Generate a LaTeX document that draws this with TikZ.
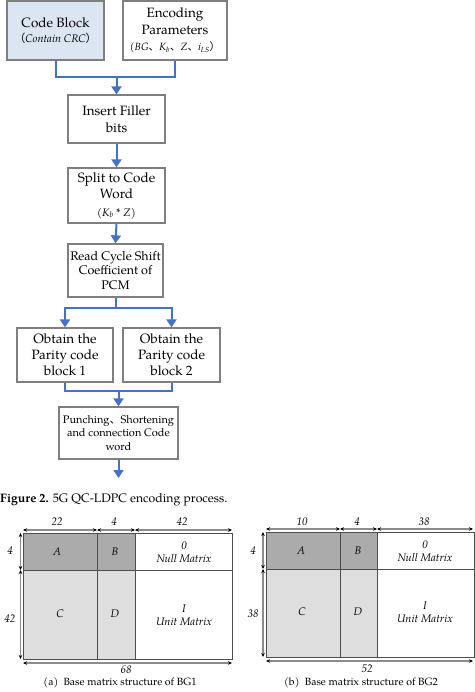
\documentclass[tikz,border=0pt]{standalone}
\usepackage{fontspec}
\setmainfont{TeX Gyre Pagella}
\newfontfamily\cjk{Noto Sans CJK SC}
\usetikzlibrary{arrows.meta}
\definecolor{boxline}{HTML}{7F7F7F}
\definecolor{cbfill}{HTML}{DCE6F2}
\definecolor{flowblue}{HTML}{4472C4}
\definecolor{darkcell}{HTML}{ABABAB}
\definecolor{lightcell}{HTML}{DEDEDE}
\definecolor{gridline}{HTML}{4D4D4D}
\definecolor{dimline}{HTML}{8C8C8C}
\begin{document}
\begin{tikzpicture}[x=1pt,y=-1pt,
  box/.style={draw=boxline,line width=1.3pt,fill=white,align=center,inner sep=0pt,font=\fontsize{13.5}{16.5}\selectfont},
  flow/.style={draw=flowblue,line width=2pt},
  flowarrow/.style={flow,-{Triangle[length=8pt,width=10pt]}},
  cell/.style={draw=gridline,line width=0.9pt},
  dim/.style={draw=dimline,line width=1.2pt,{Stealth[length=4pt,width=3.5pt,color=black]}-{Stealth[length=4pt,width=3.5pt,color=black]}},
  lbl/.style={font=\fontsize{11}{13}\selectfont\itshape,inner sep=0pt,align=center},
  capt/.style={font=\fontsize{10.5}{12}\selectfont,inner sep=0pt},
]
\useasboundingbox (0,0) rectangle (474,692);

% ---------- flow chart ----------
\node[box,fill=cbfill,minimum width=97pt,minimum height=59pt] (cb) at (55.5,30.5)
  {Code Block\\[-1pt]{\fontsize{11}{13}\selectfont{\cjk （}{\itshape Contain CRC}{\cjk ）}}};
\node[box,minimum width=104pt,minimum height=59pt] (ep) at (175,30.5)
  {Encoding\\Parameters\\{\fontsize{10.5}{12.5}\selectfont\itshape (BG{\cjk 、}K\textsubscript{b}{\cjk 、}Z{\cjk 、}i\textsubscript{LS}{\cjk ）}}};
\node[box,minimum width=97pt,minimum height=48pt] (ins) at (116.5,119) {Insert Filler\\bits};
\node[box,minimum width=97pt,minimum height=55pt] (spl) at (116.5,195.5)
  {Split to Code\\Word\\[1pt]{\fontsize{11}{13}\selectfont\itshape (K\textsubscript{b} * Z)}};
\node[box,minimum width=95pt,minimum height=53pt,font=\fontsize{12.5}{14.5}\selectfont] (rd) at (115.5,270.5)
  {Read Cycle Shift\\Coefficient of\\PCM};
\node[box,minimum width=96pt,minimum height=54pt,font=\fontsize{13.5}{16}\selectfont] (ob1) at (65,355)
  {Obtain the\\Parity code\\block 1};
\node[box,minimum width=97pt,minimum height=54pt,font=\fontsize{13.5}{16}\selectfont] (ob2) at (171.5,355)
  {Obtain the\\Parity code\\block 2};
\node[box,minimum width=119pt,minimum height=52pt,font=\fontsize{11}{13.5}\selectfont] (pun) at (118.5,433)
  {Punching{\cjk 、}Shortening\\and connection Code\\word};

\coordinate (j1) at (116.5,77);
\coordinate (j2) at (115.5,308);
\coordinate (j3) at (118.5,391);
\coordinate (out) at (118.5,478);

\draw[flow] (cb.south) |- (j1) -| (ep.south);
\draw[flowarrow] (j1) -- (ins.north);
\draw[flowarrow] (ins.south) -- (spl.north);
\draw[flowarrow] (spl.south) -- (rd.north);
\draw[flow] (rd.south) -- (j2);
\draw[flowarrow] (j2) -| (ob1.north);
\draw[flowarrow] (j2) -| (ob2.north);
\draw[flow] (ob1.south) |- (j3) -| (ob2.south);
\draw[flowarrow] (j3) -- (pun.north);
\draw[flowarrow] (pun.south) -- (out);

\node[anchor=base west,inner sep=0pt,font=\fontsize{12.3}{14}\selectfont] (cap) at (0,502)
  {\textbf{Figure 2.} 5G QC-LDPC encoding process.};

% ---------- matrix (a) ----------
\fill[darkcell] (23,533) rectangle (135,570);
\fill[lightcell] (23,570) rectangle (135,659);
\draw[cell] (23,533) rectangle (232,659);
\draw[cell] (23,570) -- (232,570);
\draw[cell] (97,533) -- (97,659);
\draw[cell] (135,533) -- (135,659);

\draw[dim] (23,530) -- (97,530);
\draw[dim] (97,530) -- (135,530);
\draw[dim] (135,530) -- (232,530);
\draw[dim] (20.5,533) -- (20.5,570);
\draw[dim] (20.5,570) -- (20.5,659);
\draw[dim] (23,663) -- (232,663);

\node[lbl] (a22) at (57,522) {22};
\node[lbl] (a4t) at (114,522) {4};
\node[lbl] (a42t) at (182,522) {42};
\node[lbl] (a4l) at (10,551) {4};
\node[lbl] (a42l) at (10,619) {42};
\node[lbl] (a68) at (126,670) {68};
\node[lbl] (aA) at (57,552) {A};
\node[lbl] (aB) at (115,552) {B};
\node[lbl] (aC) at (60,614) {C};
\node[lbl] (aD) at (115,614) {D};
\node[lbl] (a0) at (184,552) {0\\Null Matrix};
\node[lbl] (aI) at (184,615) {I\\Unit Matrix};
\node[capt] (capa) at (120,683) {(a)\ \ Base matrix structure of BG1};

% ---------- matrix (b) ----------
\fill[darkcell] (266,532) rectangle (377,569);
\fill[lightcell] (266,569) rectangle (377,657);
\draw[cell] (266,532) rectangle (474,657);
\draw[cell] (266,569) -- (474,569);
\draw[cell] (340,532) -- (340,657);
\draw[cell] (377,532) -- (377,657);

\draw[dim] (266,529) -- (340,529);
\draw[dim] (340,529) -- (377,529);
\draw[dim] (377,529) -- (473,529);
\draw[dim] (263,532) -- (263,569);
\draw[dim] (263,569) -- (263,657);
\draw[dim] (266,661) -- (473,661);

\node[lbl] (b10) at (302,522) {10};
\node[lbl] (b4t) at (357,522) {4};
\node[lbl] (b38t) at (424,522) {38};
\node[lbl] (b4l) at (253,551) {4};
\node[lbl] (b38l) at (253,614) {38};
\node[lbl] (b52) at (367,669) {52};
\node[lbl] (bA) at (301,551) {A};
\node[lbl] (bB) at (358,551) {B};
\node[lbl] (bC) at (302,612) {C};
\node[lbl] (bD) at (358,612) {D};
\node[lbl] (b0) at (425,551) {0\\Null Matrix};
\node[lbl] (bI) at (425,612) {I\\Unit Matrix};
\node[capt] (capb) at (361,683) {(b)\ \ Base matrix structure of BG2};
\end{tikzpicture}
\end{document}
